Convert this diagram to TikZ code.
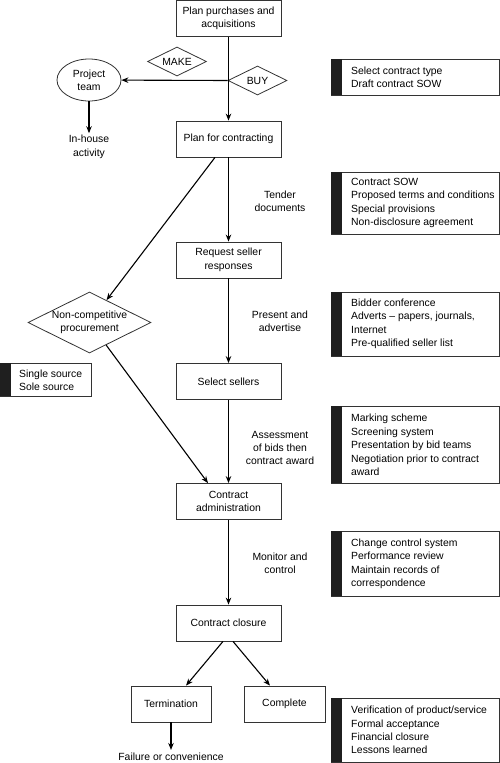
\documentclass[tikz,border=0pt]{standalone}
\usepackage{fontspec}
\setmainfont{Liberation Sans}
\usetikzlibrary{shapes.geometric,arrows.meta,calc}
\begin{document}
\begin{tikzpicture}[x=1pt,y=-1pt,
  font=\fontsize{10.4}{13.4}\selectfont,
  mainbox/.style={draw=black!80, line width=0.8pt, minimum width=105, minimum height=36, inner sep=2pt, align=center},
  smallbox/.style={draw=black!80, line width=0.8pt, minimum width=80, minimum height=36, inner sep=2pt, align=center},
  choice/.style={diamond, aspect=2, draw=black!80, line width=0.8pt, inner sep=0pt, align=center},
  sidebox/.style={draw=black!80, line width=0.8pt, minimum width=168, inner sep=0pt},
  sidetext/.style={anchor=west, align=left, inner sep=0pt},
  label/.style={align=center, inner sep=2pt},
  conn/.style={-{Stealth[length=7pt,width=5.5pt]}, line width=1.1pt},
  plain/.style={line width=1.1pt}
]
\useasboundingbox (0,0) rectangle (500,763);

% main chain
\node[mainbox] (p1) at (228.5,18.5) {Plan purchases and\\acquisitions};
\node[mainbox] (p2) at (228.5,139) {Plan for contracting};
\node[mainbox] (p3) at (228.5,260) {Request seller\\responses};
\node[mainbox] (p4) at (228.5,381.5) {Select sellers};
\node[mainbox] (p5) at (228.5,501.5) {Contract\\administration};
\node[mainbox] (p6) at (228.5,623) {Contract closure};
\node[smallbox] (term) at (171,704) {Termination};
\node[smallbox, minimum width=81] (comp) at (284.5,704) {Complete};

% make or buy
\node[choice, minimum width=59, minimum height=29] (make) at (177,61.5) {MAKE};
\node[choice, minimum width=59, minimum height=29] (buy) at (257.5,80.5) {BUY};
\node[ellipse, draw=black!80, line width=0.8pt, minimum width=64, minimum height=42, inner sep=0pt, align=center] (team) at (89,80) {Project\\team};
\node[label] (inhouse) at (89,147) {In-house\\activity};

\node[choice, minimum width=123, minimum height=61] (nc) at (89.5,322.5) {Non-competitive\\procurement};

% labels on the chain
\node[label] (l1) at (280,201.5) {Tender\\documents};
\node[label] (l2) at (280,321.5) {Present and\\advertise};
\node[label] (l3) at (280,448) {Assessment\\of bids then\\contract award};
\node[label] (l4) at (280,563.5) {Monitor and\\control};
\node[inner sep=3pt] (fail) at (171,757) {Failure or convenience};

% connectors
\draw[conn] (p1) -- (p2);
\draw[conn] (buy.west) -- (team);
\draw[conn] (team) -- (inhouse);
\draw[conn] (p2) -- (p3);
\draw[conn] ([xshift=-13.5pt]p2.south) -- (nc);
\draw[conn] (nc) -- ([xshift=-20.5pt]p5.north);
\draw[conn] (p3) -- (p4);
\draw[conn] (p4) -- (p5);
\draw[conn] (p5) -- (p6);
\draw[conn] ([xshift=-5.5pt]p6.south) -- ([xshift=15pt]term.north);
\draw[conn] ([xshift=4.5pt]p6.south) -- ([xshift=-14.5pt]comp.north);
\draw[conn] (term) -- (fail);

% side boxes
\node[sidebox, minimum height=36] (s1) at (415,77) {};
\fill[black!88] (s1.north west) rectangle ([xshift=11pt]s1.south west);
\node[sidetext] (t1) at (351,77) {Select contract type\\Draft contract SOW};

\node[sidebox, minimum height=62] (s2) at (415,203) {};
\fill[black!88] (s2.north west) rectangle ([xshift=11pt]s2.south west);
\node[sidetext] (t2) at (351,203) {Contract SOW\\Proposed terms and conditions\\Special provisions\\Non-disclosure agreement};

\node[sidebox, minimum height=64] (s3) at (415,324) {};
\fill[black!88] (s3.north west) rectangle ([xshift=11pt]s3.south west);
\node[sidetext] (t3) at (351,324) {Bidder conference\\Adverts -- papers, journals,\\Internet\\Pre-qualified seller list};

\node[sidebox, minimum height=77] (s4) at (415,444.5) {};
\fill[black!88] (s4.north west) rectangle ([xshift=11pt]s4.south west);
\node[sidetext] (t4) at (351,445) {Marking scheme\\Screening system\\Presentation by bid teams\\Negotiation prior to contract\\award};

\node[sidebox, minimum height=65] (s5) at (415,563.5) {};
\fill[black!88] (s5.north west) rectangle ([xshift=11pt]s5.south west);
\node[sidetext] (t5) at (351,564) {Change control system\\Performance review\\Maintain records of\\correspondence};

\node[sidebox, minimum height=64] (s6) at (415,730) {};
\fill[black!88] (s6.north west) rectangle ([xshift=11pt]s6.south west);
\node[sidetext] (t6) at (351,730) {Verification of product/service\\Formal acceptance\\Financial closure\\Lessons learned};

\node[sidebox, minimum width=91, minimum height=33] (s7) at (45.5,379.5) {};
\fill[black!88] (s7.north west) rectangle ([xshift=11pt]s7.south west);
\node[sidetext] (t7) at (19,380) {Single source\\Sole source};

\end{tikzpicture}
\end{document}
